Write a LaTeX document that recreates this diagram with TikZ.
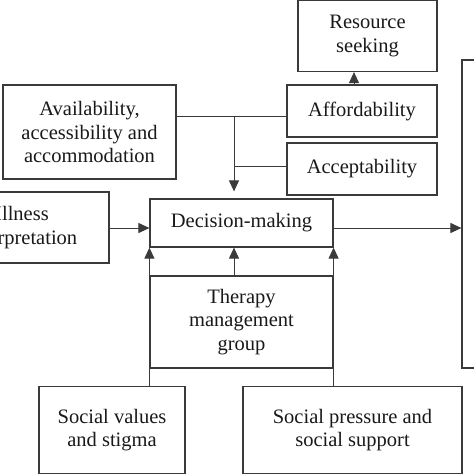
\documentclass[tikz,border=0pt]{standalone}
\usepackage{fontspec}
\setmainfont{Liberation Serif}
\usetikzlibrary{arrows.meta}

\definecolor{linegray}{HTML}{3A3A3A}
\tikzset{
  box/.style={draw=linegray, line width=1.2pt, inner sep=0pt, align=center, text=black!90},
  thickbox/.style={box, line width=2pt},
  conn/.style={draw=linegray, line width=1pt}
}

\begin{document}
\begin{tikzpicture}[x=1pt, y=-1pt, >={Triangle[length=11pt,width=10pt]},
    font=\fontsize{20.5}{23.5}\selectfont]
    \useasboundingbox (0,0) rectangle (474,474);
    \clip (0,0) rectangle (474,474);

    % Boxes along the top
    \node[box, minimum width=139pt, minimum height=71pt] (resource) at (367.5,36) {Resource\\seeking};
    \node[box, minimum width=150pt, minimum height=52pt] (afford) at (362,111) {Affordability};
    \node[box, minimum width=150pt, minimum height=52pt] (accept) at (362,169) {Acceptability};
    \node[box, minimum width=173pt, minimum height=94pt] (avail) at (89.5,132) {Availability,\\accessibility and\\accommodation};

    % Middle row
    \node[box, minimum width=174pt, minimum height=71pt] (illness) at (22,227.5) {Illness\\interpretation};
    \node[box, minimum width=183pt, minimum height=48pt] (decision) at (241.5,223) {Decision-making};
    \node[box, minimum width=28pt, minimum height=308pt] (outcome) at (476,214) {};

    % Therapy group and social factors
    \node[thickbox, minimum width=183pt, minimum height=92pt] (therapy) at (241.5,322) {Therapy\\management\\group};
    \node[box, minimum width=146pt, minimum height=87pt] (values) at (112,430) {Social values\\and stigma};
    \node[box, minimum width=219pt, minimum height=87pt] (pressure) at (352.5,430) {Social pressure and\\social support};

    % Junctions of the access lines
    \coordinate (jtop) at (234,116);
    \coordinate (jmid) at (234,166);

    % Access factors feeding decision-making
    \draw[conn] (avail.east |- jtop) -- (afford.west |- jtop);
    \draw[conn] (accept.west |- jmid) -- (jmid);
    \draw[conn, ->] (jtop) -- ([yshift=7pt]jtop |- decision.north);

    % Affordability to resource seeking
    \draw[conn, ->] (afford.north -| 354,0) -- (resource.south -| 354,0);

    % Illness interpretation through decision-making
    \draw[conn, ->] (illness.east |- 0,228) -- (decision.west |- 0,228);
    \draw[conn, ->] (decision.east |- 0,228) -- (outcome.west |- 0,228);

    % Influences from below
    \draw[conn, ->] (jtop |- therapy.north) -- (jtop |- decision.south);
    \draw[conn, ->] (decision.south west |- values.north) -- (decision.south west);
    \draw[conn, ->] (decision.south east |- pressure.north) -- (decision.south east);
\end{tikzpicture}
\end{document}
